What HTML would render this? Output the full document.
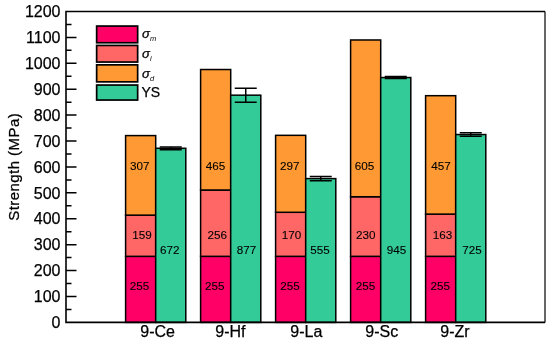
<!DOCTYPE html><html><head><meta charset="utf-8"><style>html,body{margin:0;padding:0;background:#fff;}svg{display:block;}text{font-family:"Liberation Sans",Arial,sans-serif;stroke:#000;stroke-width:0.25px;}</style></head><body>
<svg width="550" height="345" viewBox="0 0 550 345">
<rect x="0" y="0" width="550" height="345" fill="#fff"/>
<rect x="125.60" y="256.33" width="30.10" height="66.07" fill="#FF0066" stroke="#000" stroke-width="1.5"/>
<rect x="125.60" y="215.13" width="30.10" height="41.20" fill="#FF6666" stroke="#000" stroke-width="1.5"/>
<rect x="125.60" y="135.59" width="30.10" height="79.54" fill="#FF9933" stroke="#000" stroke-width="1.5"/>
<rect x="155.70" y="148.28" width="30.10" height="174.12" fill="#33CC99" stroke="#000" stroke-width="1.5"/>
<path d="M170.75 146.91V149.66M159.75 146.91H181.75M159.75 149.66H181.75" stroke="#000" stroke-width="1.5" fill="none"/>
<rect x="200.60" y="256.33" width="30.10" height="66.07" fill="#FF0066" stroke="#000" stroke-width="1.5"/>
<rect x="200.60" y="190.00" width="30.10" height="66.33" fill="#FF6666" stroke="#000" stroke-width="1.5"/>
<rect x="200.60" y="69.52" width="30.10" height="120.48" fill="#FF9933" stroke="#000" stroke-width="1.5"/>
<rect x="230.70" y="95.17" width="30.10" height="227.23" fill="#33CC99" stroke="#000" stroke-width="1.5"/>
<path d="M245.75 88.17V102.16M234.75 88.17H256.75M234.75 102.16H256.75" stroke="#000" stroke-width="1.5" fill="none"/>
<rect x="275.60" y="256.33" width="30.10" height="66.07" fill="#FF0066" stroke="#000" stroke-width="1.5"/>
<rect x="275.60" y="212.28" width="30.10" height="44.05" fill="#FF6666" stroke="#000" stroke-width="1.5"/>
<rect x="275.60" y="135.33" width="30.10" height="76.95" fill="#FF9933" stroke="#000" stroke-width="1.5"/>
<rect x="305.70" y="178.60" width="30.10" height="143.80" fill="#33CC99" stroke="#000" stroke-width="1.5"/>
<path d="M320.75 176.53V180.67M309.75 176.53H331.75M309.75 180.67H331.75" stroke="#000" stroke-width="1.5" fill="none"/>
<rect x="350.60" y="256.33" width="30.10" height="66.07" fill="#FF0066" stroke="#000" stroke-width="1.5"/>
<rect x="350.60" y="196.74" width="30.10" height="59.59" fill="#FF6666" stroke="#000" stroke-width="1.5"/>
<rect x="350.60" y="39.98" width="30.10" height="156.76" fill="#FF9933" stroke="#000" stroke-width="1.5"/>
<rect x="380.70" y="77.55" width="30.10" height="244.85" fill="#33CC99" stroke="#000" stroke-width="1.5"/>
<path d="M395.75 76.59V78.51M384.75 76.59H406.75M384.75 78.51H406.75" stroke="#000" stroke-width="1.5" fill="none"/>
<rect x="425.60" y="256.33" width="30.10" height="66.07" fill="#FF0066" stroke="#000" stroke-width="1.5"/>
<rect x="425.60" y="214.10" width="30.10" height="42.23" fill="#FF6666" stroke="#000" stroke-width="1.5"/>
<rect x="425.60" y="95.69" width="30.10" height="118.41" fill="#FF9933" stroke="#000" stroke-width="1.5"/>
<rect x="455.70" y="134.55" width="30.10" height="187.85" fill="#33CC99" stroke="#000" stroke-width="1.5"/>
<path d="M470.75 132.74V136.37M459.75 132.74H481.75M459.75 136.37H481.75" stroke="#000" stroke-width="1.5" fill="none"/>
<path d="M545 11.5V322.4" fill="none" stroke="#000" stroke-width="1.2"/>
<path d="M545 322.4H66V11.5H545" fill="none" stroke="#000" stroke-width="1.6"/>
<path d="M66 309.44H71.5M66 296.49H76.5M66 283.53H71.5M66 270.58H76.5M66 257.62H71.5M66 244.67H76.5M66 231.71H71.5M66 218.76H76.5M66 205.80H71.5M66 192.85H76.5M66 179.89H71.5M66 166.94H76.5M66 153.98H71.5M66 141.03H76.5M66 128.07H71.5M66 115.12H76.5M66 102.16H71.5M66 89.21H76.5M66 76.25H71.5M66 63.30H76.5M66 50.34H71.5M66 37.39H76.5M66 24.44H71.5" stroke="#000" stroke-width="1.5" fill="none"/>
<text x="60.5" y="328.10" font-size="16" text-anchor="end">0</text>
<text x="60.5" y="302.19" font-size="16" text-anchor="end">100</text>
<text x="60.5" y="276.28" font-size="16" text-anchor="end">200</text>
<text x="60.5" y="250.37" font-size="16" text-anchor="end">300</text>
<text x="60.5" y="224.46" font-size="16" text-anchor="end">400</text>
<text x="60.5" y="198.55" font-size="16" text-anchor="end">500</text>
<text x="60.5" y="172.64" font-size="16" text-anchor="end">600</text>
<text x="60.5" y="146.73" font-size="16" text-anchor="end">700</text>
<text x="60.5" y="120.82" font-size="16" text-anchor="end">800</text>
<text x="60.5" y="94.91" font-size="16" text-anchor="end">900</text>
<text x="60.5" y="69.00" font-size="16" text-anchor="end">1000</text>
<text x="60.5" y="43.09" font-size="16" text-anchor="end">1100</text>
<text x="60.5" y="17.18" font-size="16" text-anchor="end">1200</text>
<text x="140.30" y="336.7" font-size="16">9-Ce</text>
<text x="215.30" y="336.7" font-size="16">9-Hf</text>
<text x="290.30" y="336.7" font-size="16">9-La</text>
<text x="365.30" y="336.7" font-size="16">9-Sc</text>
<text x="440.30" y="336.7" font-size="16">9-Zr</text>
<text transform="translate(19.2 166.8) rotate(-90)" font-size="15" letter-spacing="0.45" text-anchor="middle">Strength (MPa)</text>
<text x="139.75" y="169.8" font-size="11.7" text-anchor="middle" fill="#000" style="stroke-width:0.1px">307</text>
<text x="215.50" y="169.8" font-size="11.7" text-anchor="middle" fill="#000" style="stroke-width:0.1px">465</text>
<text x="289.80" y="169.8" font-size="11.7" text-anchor="middle" fill="#000" style="stroke-width:0.1px">297</text>
<text x="364.50" y="169.8" font-size="11.7" text-anchor="middle" fill="#000" style="stroke-width:0.1px">605</text>
<text x="441.10" y="169.8" font-size="11.7" text-anchor="middle" fill="#000" style="stroke-width:0.1px">457</text>
<text x="142.00" y="238.6" font-size="11.7" text-anchor="middle" fill="#000" style="stroke-width:0.1px">159</text>
<text x="217.30" y="238.6" font-size="11.7" text-anchor="middle" fill="#000" style="stroke-width:0.1px">256</text>
<text x="291.50" y="238.6" font-size="11.7" text-anchor="middle" fill="#000" style="stroke-width:0.1px">170</text>
<text x="365.70" y="238.6" font-size="11.7" text-anchor="middle" fill="#000" style="stroke-width:0.1px">230</text>
<text x="442.60" y="238.6" font-size="11.7" text-anchor="middle" fill="#000" style="stroke-width:0.1px">163</text>
<text x="139.40" y="290.2" font-size="11.7" text-anchor="middle" fill="#000" style="stroke-width:0.1px">255</text>
<text x="214.80" y="290.2" font-size="11.7" text-anchor="middle" fill="#000" style="stroke-width:0.1px">255</text>
<text x="290.10" y="290.2" font-size="11.7" text-anchor="middle" fill="#000" style="stroke-width:0.1px">255</text>
<text x="365.50" y="290.2" font-size="11.7" text-anchor="middle" fill="#000" style="stroke-width:0.1px">255</text>
<text x="440.30" y="290.2" font-size="11.7" text-anchor="middle" fill="#000" style="stroke-width:0.1px">255</text>
<text x="169.70" y="254.3" font-size="11.7" text-anchor="middle" fill="#000" style="stroke-width:0.1px">672</text>
<text x="246.50" y="254.3" font-size="11.7" text-anchor="middle" fill="#000" style="stroke-width:0.1px">877</text>
<text x="319.90" y="254.3" font-size="11.7" text-anchor="middle" fill="#000" style="stroke-width:0.1px">555</text>
<text x="396.50" y="254.3" font-size="11.7" text-anchor="middle" fill="#000" style="stroke-width:0.1px">945</text>
<text x="472.00" y="254.3" font-size="11.7" text-anchor="middle" fill="#000" style="stroke-width:0.1px">725</text>
<rect x="96.65" y="26.05" width="41.00" height="16.70" fill="#FF0066" stroke="#000" stroke-width="1.7"/>
<rect x="96.65" y="45.45" width="41.00" height="16.60" fill="#FF6666" stroke="#000" stroke-width="1.7"/>
<rect x="96.65" y="64.85" width="41.00" height="17.00" fill="#FF9933" stroke="#000" stroke-width="1.7"/>
<rect x="96.65" y="85.05" width="41.00" height="15.00" fill="#33CC99" stroke="#000" stroke-width="1.7"/>
<text x="142.1" y="38.4" font-size="13"><tspan font-style="italic">σ</tspan><tspan font-style="italic" font-size="7.5" dy="3" style="stroke-width:0">m</tspan></text>
<text x="142.1" y="57.8" font-size="13"><tspan font-style="italic">σ</tspan><tspan font-style="italic" font-size="7.5" dy="3" style="stroke-width:0">i</tspan></text>
<text x="142.1" y="77.5" font-size="13"><tspan font-style="italic">σ</tspan><tspan font-style="italic" font-size="7.5" dy="3" style="stroke-width:0">d</tspan></text>
<text x="141.5" y="96.8" font-size="14">YS</text>
</svg></body></html>
